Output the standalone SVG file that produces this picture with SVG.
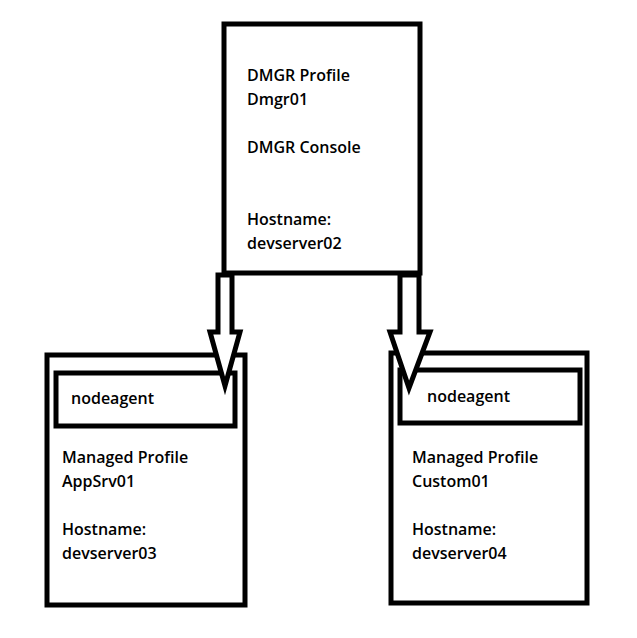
<svg xmlns="http://www.w3.org/2000/svg" width="637" height="638" viewBox="0 0 637 638">
<style>
.b{fill:none;stroke:#000;stroke-width:5}
.a{fill:#fff;stroke:#000;stroke-width:5;stroke-linejoin:miter}
text{font-family:"Open Sans","Liberation Sans",sans-serif;font-size:16px;font-weight:600;fill:#000}
</style>
<rect width="637" height="638" fill="#fff"/>
<g id="dmgr"><rect class="b" x="224" y="24" width="196" height="249"/>
<text x="247" y="81">DMGR Profile</text><text x="247" y="105">Dmgr01</text>
<text x="247" y="153">DMGR Console</text><text x="247" y="225">Hostname:</text><text x="247" y="249">devserver02</text></g>
<g id="node3"><rect class="b" x="47" y="355" width="198" height="250"/>
<rect class="b" x="56" y="373" width="179" height="53"/>
<text x="71" y="404">nodeagent</text>
<text x="62" y="463">Managed Profile</text><text x="62" y="487">AppSrv01</text>
<text x="62" y="535">Hostname:</text><text x="62" y="559">devserver03</text></g>
<g id="node4"><rect class="b" x="391" y="353" width="196" height="250"/>
<rect class="b" x="400" y="370" width="180" height="53"/>
<text x="427" y="402">nodeagent</text>
<text x="412" y="463">Managed Profile</text><text x="412" y="487">Custom01</text>
<text x="412" y="535">Hostname:</text><text x="412" y="559">devserver04</text></g>
<g id="connectors">
<polygon class="a" points="218,275 232,275 232,332 240,332 225,386 210,332 218,332"/>
<polygon class="a" points="400,275 419,275 419,332 430,332 409,388 390,332 400,332"/>
</g>
</svg>
